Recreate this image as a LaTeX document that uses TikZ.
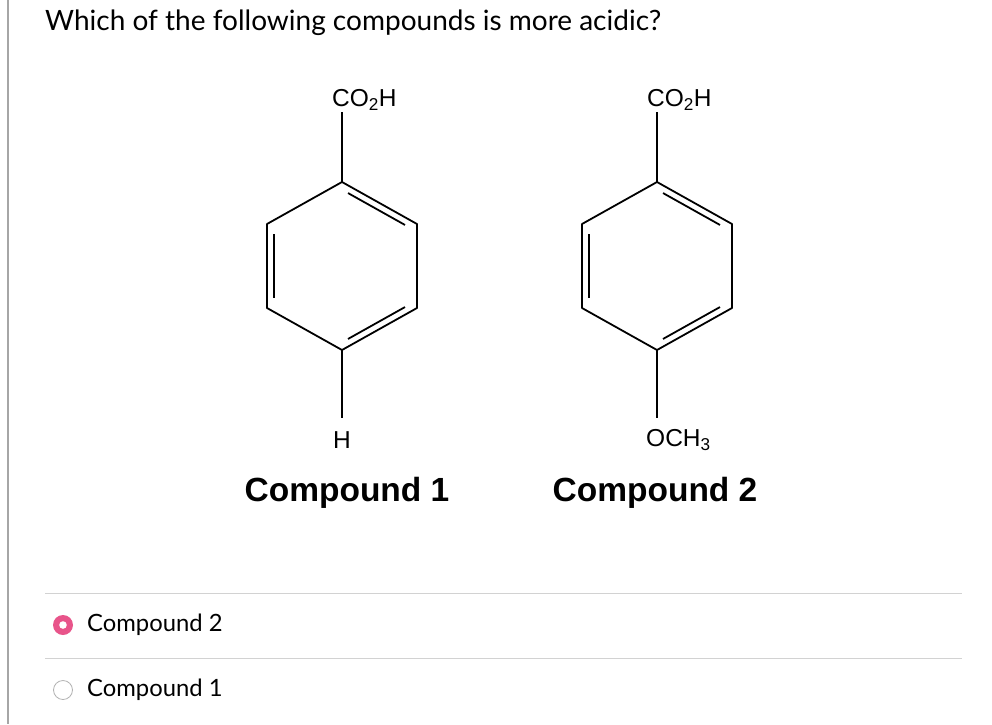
\documentclass[tikz,border=0pt]{standalone}
\usepackage{fontspec}
\usetikzlibrary{calc}
\setmainfont{Lato}
\newfontfamily\arial{Liberation Sans}
\definecolor{pinkc}{HTML}{E8548A}
\begin{document}
\begin{tikzpicture}[x=1pt,y=-1pt,
  bond/.style={line width=1.8pt,black},
  chem/.style={font=\arial\fontsize{24.5}{24.5}\selectfont,inner sep=0pt},
  cmp/.style={font=\arial\bfseries\fontsize{33.5}{33.5}\selectfont,inner sep=0pt},
  opt/.style={font=\fontsize{23.8}{23.8}\selectfont,anchor=west,inner sep=0pt}]
\path[use as bounding box] (0,0) rectangle (992,724);
\fill[white] (0,0) rectangle (992,724);
\draw[gray!70,line width=1.2pt] (8,0) -- (8,724);
\node[anchor=base west,inner sep=0pt,font=\fontsize{28}{28}\selectfont] (title) at (45,30) {Which of the following compounds is more acidic?};
\foreach \cx/\nm in {342/a,657/b}{
  \coordinate (\nm1) at (\cx,182);
  \coordinate (\nm2) at (\cx+75,224);
  \coordinate (\nm3) at (\cx+75,308);
  \coordinate (\nm4) at (\cx,350);
  \coordinate (\nm5) at (\cx-75,308);
  \coordinate (\nm6) at (\cx-75,224);
  \draw[bond,line join=round] (\nm1)--(\nm2)--(\nm3)--(\nm4)--(\nm5)--(\nm6)--cycle;
  \draw[bond] ($(\nm1)!0.12!(\nm2)+(-3,6)$) -- ($(\nm1)!0.88!(\nm2)+(-3,6)$);
  \draw[bond] ($(\nm3)!0.12!(\nm4)+(-3,-6)$) -- ($(\nm3)!0.88!(\nm4)+(-3,-6)$);
  \draw[bond] ($(\nm5)!0.12!(\nm6)+(7,0)$) -- ($(\nm5)!0.88!(\nm6)+(7,0)$);
  \node[chem,anchor=west] (\nm top) at (\cx-10,100) {CO\textsubscript{2}H};
  \draw[bond] (\nm1) -- (\cx,112);
  \draw[bond] (\nm4) -- (\cx,418);
}
\node[chem] (h) at (342,440) {H};
\node[chem,anchor=west] (och) at (646,440) {OCH\textsubscript{3}};
\node[cmp] (c1) at (347,493) {Compound 1};
\node[cmp] (c2) at (655,493) {Compound 2};
\draw[gray!35,line width=1pt] (45,593) -- (962,593);
\draw[gray!35,line width=1pt] (45,658) -- (962,658);
\fill[pinkc] (63,625) circle (10);
\fill[white] (63,625) circle (3.8);
\node[opt] (o1) at (87,625) {Compound 2};
\draw[gray!60,line width=0.8pt] (63,690) circle (9.5);
\node[opt] (o2) at (87,690) {Compound 1};
\end{tikzpicture}
\end{document}
